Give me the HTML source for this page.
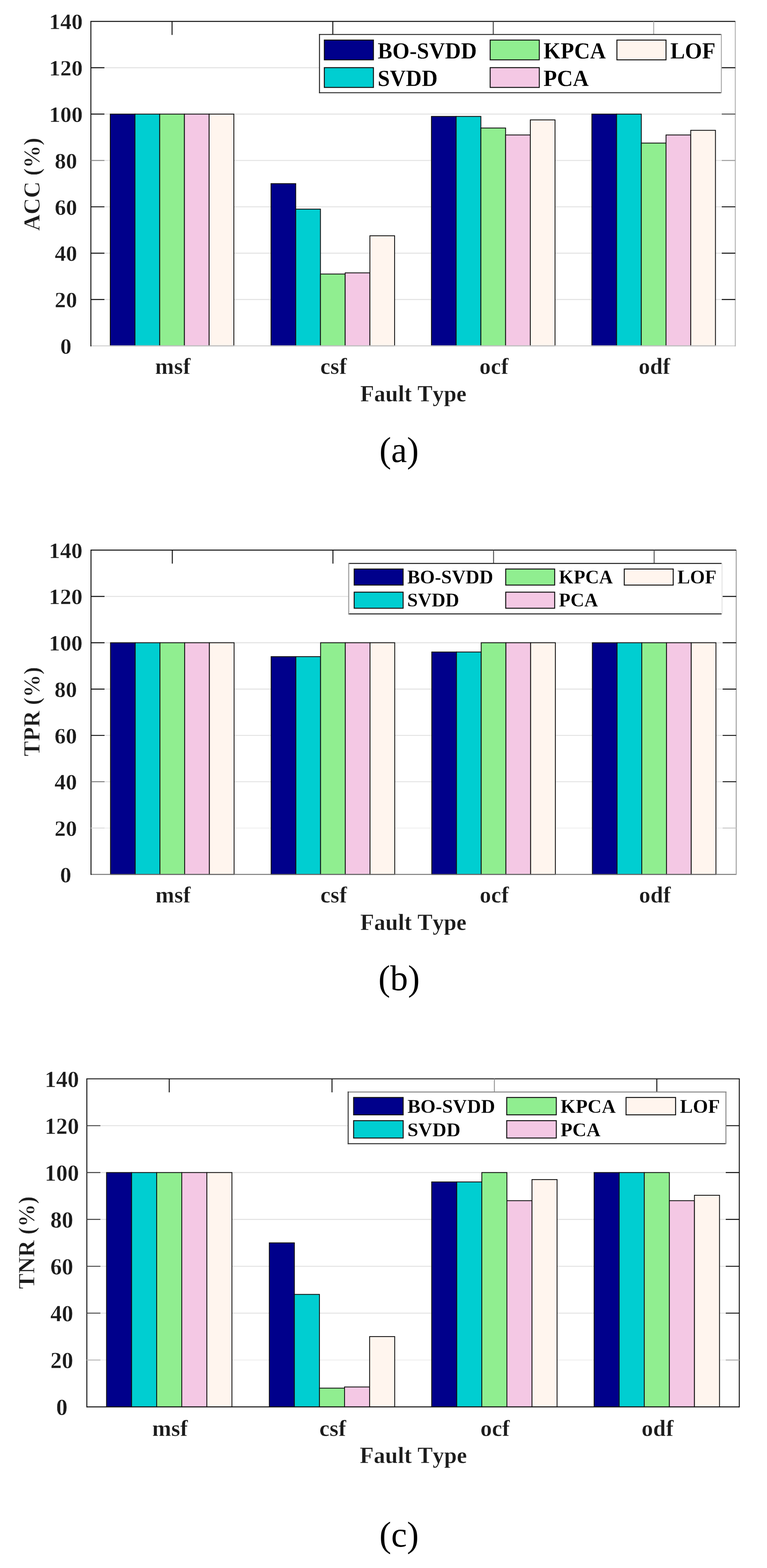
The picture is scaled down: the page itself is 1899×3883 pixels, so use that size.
<!DOCTYPE html>
<html lang="en">
<head>
<meta charset="utf-8">
<title>Fault detection performance comparison</title>
<style>
html, body { margin: 0; padding: 0; background: #fff; }
body { width: 1899px; height: 3883px; overflow: hidden; }
svg { display: block; }
text { font-family: "Liberation Serif", "DejaVu Serif", serif; font-kerning: none; font-variant-ligatures: none; }
.t { font-weight: bold; fill: #1c1c1c; stroke: #fff; stroke-width: 0.5px; paint-order: fill stroke; stroke-linejoin: round; }
.x { letter-spacing: 0.25px; }
.y { stroke-width: 0.9px; }
.l { font-weight: bold; fill: #000; stroke: #fff; stroke-width: 0.3px; paint-order: fill stroke; stroke-linejoin: round; }
.c { font-weight: normal; fill: #000; }
</style>
</head>
<body>
<svg role="img" aria-label="Fault detection performance comparison: ACC, TPR and TNR by fault type" width="1899" height="3883" viewBox="0 0 1899 3883">
<rect x="0" y="0" width="1899" height="3883" fill="#ffffff"/>
<g>
<line x1="225" y1="741.71" x2="1820.5" y2="741.71" stroke="#e2e2e2" stroke-width="2.4"/>
<line x1="225" y1="626.93" x2="1820.5" y2="626.93" stroke="#e2e2e2" stroke-width="2.4"/>
<line x1="225" y1="512.14" x2="1820.5" y2="512.14" stroke="#e2e2e2" stroke-width="2.4"/>
<line x1="225" y1="397.36" x2="1820.5" y2="397.36" stroke="#e2e2e2" stroke-width="2.4"/>
<line x1="225" y1="282.57" x2="1820.5" y2="282.57" stroke="#e2e2e2" stroke-width="2.4"/>
<line x1="225" y1="167.79" x2="1820.5" y2="167.79" stroke="#e2e2e2" stroke-width="2.4"/>
<rect x="273" y="282.57" width="61.2" height="573.93" fill="#00008B" stroke="#101010" stroke-width="2.1"/>
<rect x="334.2" y="282.57" width="61.2" height="573.93" fill="#00CED1" stroke="#101010" stroke-width="2.1"/>
<rect x="395.4" y="282.57" width="61.2" height="573.93" fill="#90EE90" stroke="#101010" stroke-width="2.1"/>
<rect x="456.6" y="282.57" width="61.2" height="573.93" fill="#F4C8E4" stroke="#101010" stroke-width="2.1"/>
<rect x="517.8" y="282.57" width="61.2" height="573.93" fill="#FFF5EE" stroke="#101010" stroke-width="2.1"/>
<rect x="671" y="454.75" width="61.2" height="401.75" fill="#00008B" stroke="#101010" stroke-width="2.1"/>
<rect x="732.2" y="517.88" width="61.2" height="338.62" fill="#00CED1" stroke="#101010" stroke-width="2.1"/>
<rect x="793.4" y="678.58" width="61.2" height="177.92" fill="#90EE90" stroke="#101010" stroke-width="2.1"/>
<rect x="854.6" y="675.71" width="61.2" height="180.79" fill="#F4C8E4" stroke="#101010" stroke-width="2.1"/>
<rect x="915.8" y="583.88" width="61.2" height="272.62" fill="#FFF5EE" stroke="#101010" stroke-width="2.1"/>
<rect x="1068.2" y="288.31" width="61.2" height="568.19" fill="#00008B" stroke="#101010" stroke-width="2.1"/>
<rect x="1129.4" y="288.31" width="61.2" height="568.19" fill="#00CED1" stroke="#101010" stroke-width="2.1"/>
<rect x="1190.6" y="317.01" width="61.2" height="539.49" fill="#90EE90" stroke="#101010" stroke-width="2.1"/>
<rect x="1251.8" y="334.23" width="61.2" height="522.27" fill="#F4C8E4" stroke="#101010" stroke-width="2.1"/>
<rect x="1313" y="296.92" width="61.2" height="559.58" fill="#FFF5EE" stroke="#101010" stroke-width="2.1"/>
<rect x="1465.4" y="282.57" width="61.2" height="573.93" fill="#00008B" stroke="#101010" stroke-width="2.1"/>
<rect x="1526.6" y="282.57" width="61.2" height="573.93" fill="#00CED1" stroke="#101010" stroke-width="2.1"/>
<rect x="1587.8" y="354.31" width="61.2" height="502.19" fill="#90EE90" stroke="#101010" stroke-width="2.1"/>
<rect x="1649" y="334.23" width="61.2" height="522.27" fill="#F4C8E4" stroke="#101010" stroke-width="2.1"/>
<rect x="1710.2" y="322.75" width="61.2" height="533.75" fill="#FFF5EE" stroke="#101010" stroke-width="2.1"/>
<line x1="225" y1="856.5" x2="1820.5" y2="856.5" stroke="#d0d0d0" stroke-width="2.4"/>
<line x1="1820.5" y1="53" x2="1820.5" y2="857.7" stroke="#b4b4b4" stroke-width="2.4"/>
<line x1="223.8" y1="53" x2="1820.5" y2="53" stroke="#111" stroke-width="2.4"/>
<line x1="225" y1="53" x2="225" y2="857.7" stroke="#111" stroke-width="2.4"/>
<line x1="225" y1="741.71" x2="258.5" y2="741.71" stroke="#111" stroke-width="2.4"/>
<line x1="1787" y1="741.71" x2="1820.5" y2="741.71" stroke="#111" stroke-width="2.4"/>
<line x1="225" y1="626.93" x2="258.5" y2="626.93" stroke="#111" stroke-width="2.4"/>
<line x1="1787" y1="626.93" x2="1820.5" y2="626.93" stroke="#111" stroke-width="2.4"/>
<line x1="225" y1="512.14" x2="258.5" y2="512.14" stroke="#111" stroke-width="2.4"/>
<line x1="1787" y1="512.14" x2="1820.5" y2="512.14" stroke="#111" stroke-width="2.4"/>
<line x1="225" y1="397.36" x2="258.5" y2="397.36" stroke="#888" stroke-width="2.4"/>
<line x1="1787" y1="397.36" x2="1820.5" y2="397.36" stroke="#999" stroke-width="2.4"/>
<line x1="225" y1="282.57" x2="258.5" y2="282.57" stroke="#111" stroke-width="2.4"/>
<line x1="1787" y1="282.57" x2="1820.5" y2="282.57" stroke="#555" stroke-width="2.4"/>
<line x1="225" y1="167.79" x2="258.5" y2="167.79" stroke="#111" stroke-width="2.4"/>
<line x1="1787" y1="167.79" x2="1820.5" y2="167.79" stroke="#111" stroke-width="2.4"/>
<line x1="426" y1="53" x2="426" y2="86.5" stroke="#111" stroke-width="2.4"/>
<line x1="824" y1="53" x2="824" y2="86.5" stroke="#111" stroke-width="2.4"/>
<line x1="1221.2" y1="53" x2="1221.2" y2="86.5" stroke="#444" stroke-width="2.4"/>
<line x1="1618.4" y1="53" x2="1618.4" y2="86.5" stroke="#aaa" stroke-width="2.4"/>
<text x="163.2" y="875.97" font-size="55.5" text-anchor="middle" class="t">0</text>
<text x="163.2" y="761.18" font-size="55.5" text-anchor="middle" class="t">20</text>
<text x="163.2" y="646.4" font-size="55.5" text-anchor="middle" class="t">40</text>
<text x="163.2" y="531.61" font-size="55.5" text-anchor="middle" class="t">60</text>
<text x="163.2" y="416.83" font-size="55.5" text-anchor="middle" class="t">80</text>
<text x="163.2" y="302.04" font-size="55.5" text-anchor="middle" class="t">100</text>
<text x="163.2" y="187.26" font-size="55.5" text-anchor="middle" class="t">120</text>
<text x="163.2" y="72.47" font-size="55.5" text-anchor="middle" class="t">140</text>
<text x="428" y="926" font-size="56" text-anchor="middle" class="t x">msf</text>
<text x="826" y="926" font-size="56" text-anchor="middle" class="t x">csf</text>
<text x="1223.2" y="926" font-size="56" text-anchor="middle" class="t x">ocf</text>
<text x="1620.4" y="926" font-size="56" text-anchor="middle" class="t x">odf</text>
<text x="1023.5" y="994.3" font-size="56" text-anchor="middle" class="t">Fault Type</text>
<text transform="translate(98,456.5) rotate(-90)" font-size="56.5" text-anchor="middle" class="t y">ACC (%)</text>
<rect x="791" y="85.4" width="995" height="144.2" fill="#fff"/>
<line x1="1786" y1="84.2" x2="1786" y2="230.8" stroke="#aaa" stroke-width="2.4"/>
<line x1="789.8" y1="85.4" x2="1784.8" y2="85.4" stroke="#222" stroke-width="2.4"/>
<line x1="789.8" y1="229.6" x2="1784.8" y2="229.6" stroke="#222" stroke-width="2.4"/>
<line x1="791" y1="84.2" x2="791" y2="230.8" stroke="#222" stroke-width="2.4"/>
<rect x="803" y="99.2" width="121.6" height="49" fill="#00008B" stroke="#111" stroke-width="2.4"/>
<text transform="translate(935,144.7) scale(0.975,1)" font-size="56" class="l">BO-SVDD</text>
<rect x="803" y="167.5" width="121.6" height="49" fill="#00CED1" stroke="#111" stroke-width="2.4"/>
<text transform="translate(935,213) scale(0.975,1)" font-size="56" class="l">SVDD</text>
<rect x="1213.6" y="99.2" width="121.6" height="49" fill="#90EE90" stroke="#111" stroke-width="2.4"/>
<text transform="translate(1345.6,144.7) scale(0.975,1)" font-size="56" class="l">KPCA</text>
<rect x="1213.6" y="167.5" width="121.6" height="49" fill="#F4C8E4" stroke="#111" stroke-width="2.4"/>
<text transform="translate(1345.6,213) scale(0.975,1)" font-size="56" class="l">PCA</text>
<rect x="1527.4" y="99.2" width="121.6" height="49" fill="#FFF5EE" stroke="#111" stroke-width="2.4"/>
<text transform="translate(1659.4,144.7) scale(0.975,1)" font-size="56" class="l">LOF</text>
<text x="988" y="1143.5" font-size="88" text-anchor="middle" class="c">(a)</text>
</g>
<g>
<line x1="225.3" y1="2050.66" x2="1822.8" y2="2050.66" stroke="#f0f0f0" stroke-width="2.4"/>
<line x1="225.3" y1="1935.91" x2="1822.8" y2="1935.91" stroke="#e2e2e2" stroke-width="2.4"/>
<line x1="225.3" y1="1821.17" x2="1822.8" y2="1821.17" stroke="#e2e2e2" stroke-width="2.4"/>
<line x1="225.3" y1="1706.43" x2="1822.8" y2="1706.43" stroke="#e2e2e2" stroke-width="2.4"/>
<line x1="225.3" y1="1591.69" x2="1822.8" y2="1591.69" stroke="#e2e2e2" stroke-width="2.4"/>
<line x1="225.3" y1="1476.94" x2="1822.8" y2="1476.94" stroke="#e2e2e2" stroke-width="2.4"/>
<rect x="273.6" y="1591.69" width="61.2" height="573.71" fill="#00008B" stroke="#101010" stroke-width="2.1"/>
<rect x="334.8" y="1591.69" width="61.2" height="573.71" fill="#00CED1" stroke="#101010" stroke-width="2.1"/>
<rect x="396" y="1591.69" width="61.2" height="573.71" fill="#90EE90" stroke="#101010" stroke-width="2.1"/>
<rect x="457.2" y="1591.69" width="61.2" height="573.71" fill="#F4C8E4" stroke="#101010" stroke-width="2.1"/>
<rect x="518.4" y="1591.69" width="61.2" height="573.71" fill="#FFF5EE" stroke="#101010" stroke-width="2.1"/>
<rect x="671.3" y="1626.11" width="61.2" height="539.29" fill="#00008B" stroke="#101010" stroke-width="2.1"/>
<rect x="732.5" y="1626.11" width="61.2" height="539.29" fill="#00CED1" stroke="#101010" stroke-width="2.1"/>
<rect x="793.7" y="1591.69" width="61.2" height="573.71" fill="#90EE90" stroke="#101010" stroke-width="2.1"/>
<rect x="854.9" y="1591.69" width="61.2" height="573.71" fill="#F4C8E4" stroke="#101010" stroke-width="2.1"/>
<rect x="916.1" y="1591.69" width="61.2" height="573.71" fill="#FFF5EE" stroke="#101010" stroke-width="2.1"/>
<rect x="1069" y="1614.63" width="61.2" height="550.77" fill="#00008B" stroke="#101010" stroke-width="2.1"/>
<rect x="1130.2" y="1614.63" width="61.2" height="550.77" fill="#00CED1" stroke="#101010" stroke-width="2.1"/>
<rect x="1191.4" y="1591.69" width="61.2" height="573.71" fill="#90EE90" stroke="#101010" stroke-width="2.1"/>
<rect x="1252.6" y="1591.69" width="61.2" height="573.71" fill="#F4C8E4" stroke="#101010" stroke-width="2.1"/>
<rect x="1313.8" y="1591.69" width="61.2" height="573.71" fill="#FFF5EE" stroke="#101010" stroke-width="2.1"/>
<rect x="1466.6" y="1591.69" width="61.2" height="573.71" fill="#00008B" stroke="#101010" stroke-width="2.1"/>
<rect x="1527.8" y="1591.69" width="61.2" height="573.71" fill="#00CED1" stroke="#101010" stroke-width="2.1"/>
<rect x="1589" y="1591.69" width="61.2" height="573.71" fill="#90EE90" stroke="#101010" stroke-width="2.1"/>
<rect x="1650.2" y="1591.69" width="61.2" height="573.71" fill="#F4C8E4" stroke="#101010" stroke-width="2.1"/>
<rect x="1711.4" y="1591.69" width="61.2" height="573.71" fill="#FFF5EE" stroke="#101010" stroke-width="2.1"/>
<line x1="225.3" y1="2165.4" x2="1822.8" y2="2165.4" stroke="#6e6e6e" stroke-width="2.4"/>
<line x1="1822.8" y1="1362.2" x2="1822.8" y2="2166.6" stroke="#a0a0a0" stroke-width="2.4"/>
<line x1="224.1" y1="1362.2" x2="1822.8" y2="1362.2" stroke="#111" stroke-width="2.4"/>
<line x1="225.3" y1="1362.2" x2="225.3" y2="2166.6" stroke="#111" stroke-width="2.4"/>
<line x1="225.3" y1="2050.66" x2="258.8" y2="2050.66" stroke="#dcdcdc" stroke-width="2.4"/>
<line x1="1789.3" y1="2050.66" x2="1822.8" y2="2050.66" stroke="#c8c8c8" stroke-width="2.4"/>
<line x1="225.3" y1="1935.91" x2="258.8" y2="1935.91" stroke="#777" stroke-width="2.4"/>
<line x1="1789.3" y1="1935.91" x2="1822.8" y2="1935.91" stroke="#111" stroke-width="2.4"/>
<line x1="225.3" y1="1821.17" x2="258.8" y2="1821.17" stroke="#111" stroke-width="2.4"/>
<line x1="1789.3" y1="1821.17" x2="1822.8" y2="1821.17" stroke="#111" stroke-width="2.4"/>
<line x1="225.3" y1="1706.43" x2="258.8" y2="1706.43" stroke="#111" stroke-width="2.4"/>
<line x1="1789.3" y1="1706.43" x2="1822.8" y2="1706.43" stroke="#111" stroke-width="2.4"/>
<line x1="225.3" y1="1591.69" x2="258.8" y2="1591.69" stroke="#111" stroke-width="2.4"/>
<line x1="1789.3" y1="1591.69" x2="1822.8" y2="1591.69" stroke="#111" stroke-width="2.4"/>
<line x1="225.3" y1="1476.94" x2="258.8" y2="1476.94" stroke="#111" stroke-width="2.4"/>
<line x1="1789.3" y1="1476.94" x2="1822.8" y2="1476.94" stroke="#111" stroke-width="2.4"/>
<line x1="426.6" y1="1362.2" x2="426.6" y2="1395.7" stroke="#111" stroke-width="2.4"/>
<line x1="824.3" y1="1362.2" x2="824.3" y2="1395.7" stroke="#111" stroke-width="2.4"/>
<line x1="1222" y1="1362.2" x2="1222" y2="1395.7" stroke="#555" stroke-width="2.4"/>
<line x1="1619.6" y1="1362.2" x2="1619.6" y2="1395.7" stroke="#555" stroke-width="2.4"/>
<text x="162.7" y="2184.87" font-size="55.5" text-anchor="middle" class="t">0</text>
<text x="162.7" y="2070.13" font-size="55.5" text-anchor="middle" class="t">20</text>
<text x="162.7" y="1955.38" font-size="55.5" text-anchor="middle" class="t">40</text>
<text x="162.7" y="1840.64" font-size="55.5" text-anchor="middle" class="t">60</text>
<text x="162.7" y="1725.9" font-size="55.5" text-anchor="middle" class="t">80</text>
<text x="162.7" y="1611.16" font-size="55.5" text-anchor="middle" class="t">100</text>
<text x="162.7" y="1496.41" font-size="55.5" text-anchor="middle" class="t">120</text>
<text x="162.7" y="1381.67" font-size="55.5" text-anchor="middle" class="t">140</text>
<text x="428.6" y="2234.8" font-size="56" text-anchor="middle" class="t x">msf</text>
<text x="826.3" y="2234.8" font-size="56" text-anchor="middle" class="t x">csf</text>
<text x="1224" y="2234.8" font-size="56" text-anchor="middle" class="t x">ocf</text>
<text x="1621.6" y="2234.8" font-size="56" text-anchor="middle" class="t x">odf</text>
<text x="1023.5" y="2303" font-size="56" text-anchor="middle" class="t">Fault Type</text>
<text transform="translate(98,1762.4) rotate(-90)" font-size="56.5" text-anchor="middle" class="t y">TPR (%)</text>
<rect x="863.4" y="1395.2" width="924.3" height="125" fill="#fff"/>
<line x1="1787.7" y1="1394" x2="1787.7" y2="1521.4" stroke="#e4e4e4" stroke-width="2.4"/>
<line x1="862.2" y1="1395.2" x2="1786.5" y2="1395.2" stroke="#222" stroke-width="2.4"/>
<line x1="862.2" y1="1520.2" x2="1786.5" y2="1520.2" stroke="#222" stroke-width="2.4"/>
<line x1="863.4" y1="1394" x2="863.4" y2="1521.4" stroke="#999" stroke-width="2.4"/>
<rect x="876.9" y="1409.1" width="121.2" height="39.8" fill="#00008B" stroke="#111" stroke-width="2.4"/>
<text transform="translate(1008.3,1445) scale(0.965,1)" font-size="49" class="l">BO-SVDD</text>
<rect x="876.9" y="1466.4" width="121.2" height="39.8" fill="#00CED1" stroke="#111" stroke-width="2.4"/>
<text transform="translate(1008.3,1502.3) scale(0.965,1)" font-size="49" class="l">SVDD</text>
<rect x="1252.1" y="1409.1" width="121.2" height="39.8" fill="#90EE90" stroke="#111" stroke-width="2.4"/>
<text transform="translate(1383.5,1445) scale(0.965,1)" font-size="49" class="l">KPCA</text>
<rect x="1252.1" y="1466.4" width="121.2" height="39.8" fill="#F4C8E4" stroke="#111" stroke-width="2.4"/>
<text transform="translate(1383.5,1502.3) scale(0.965,1)" font-size="49" class="l">PCA</text>
<rect x="1545.6" y="1409.1" width="121.2" height="39.8" fill="#FFF5EE" stroke="#111" stroke-width="2.4"/>
<text transform="translate(1677,1445) scale(0.965,1)" font-size="49" class="l">LOF</text>
<text x="988" y="2452" font-size="88" text-anchor="middle" class="c">(b)</text>
</g>
<g>
<line x1="215" y1="3367.94" x2="1830.4" y2="3367.94" stroke="#f0f0f0" stroke-width="2.4"/>
<line x1="215" y1="3251.89" x2="1830.4" y2="3251.89" stroke="#e2e2e2" stroke-width="2.4"/>
<line x1="215" y1="3135.83" x2="1830.4" y2="3135.83" stroke="#e2e2e2" stroke-width="2.4"/>
<line x1="215" y1="3019.77" x2="1830.4" y2="3019.77" stroke="#e2e2e2" stroke-width="2.4"/>
<line x1="215" y1="2903.71" x2="1830.4" y2="2903.71" stroke="#e2e2e2" stroke-width="2.4"/>
<line x1="215" y1="2787.66" x2="1830.4" y2="2787.66" stroke="#e2e2e2" stroke-width="2.4"/>
<rect x="263.75" y="2903.71" width="62.1" height="580.29" fill="#00008B" stroke="#101010" stroke-width="2.1"/>
<rect x="325.85" y="2903.71" width="62.1" height="580.29" fill="#00CED1" stroke="#101010" stroke-width="2.1"/>
<rect x="387.95" y="2903.71" width="62.1" height="580.29" fill="#90EE90" stroke="#101010" stroke-width="2.1"/>
<rect x="450.05" y="2903.71" width="62.1" height="580.29" fill="#F4C8E4" stroke="#101010" stroke-width="2.1"/>
<rect x="512.15" y="2903.71" width="62.1" height="580.29" fill="#FFF5EE" stroke="#101010" stroke-width="2.1"/>
<rect x="666.75" y="3077.8" width="62.1" height="406.2" fill="#00008B" stroke="#101010" stroke-width="2.1"/>
<rect x="728.85" y="3205.46" width="62.1" height="278.54" fill="#00CED1" stroke="#101010" stroke-width="2.1"/>
<rect x="790.95" y="3437.58" width="62.1" height="46.42" fill="#90EE90" stroke="#101010" stroke-width="2.1"/>
<rect x="853.05" y="3434.68" width="62.1" height="49.32" fill="#F4C8E4" stroke="#101010" stroke-width="2.1"/>
<rect x="915.15" y="3309.91" width="62.1" height="174.09" fill="#FFF5EE" stroke="#101010" stroke-width="2.1"/>
<rect x="1068.75" y="2926.93" width="62.1" height="557.07" fill="#00008B" stroke="#101010" stroke-width="2.1"/>
<rect x="1130.85" y="2926.93" width="62.1" height="557.07" fill="#00CED1" stroke="#101010" stroke-width="2.1"/>
<rect x="1192.95" y="2903.71" width="62.1" height="580.29" fill="#90EE90" stroke="#101010" stroke-width="2.1"/>
<rect x="1255.05" y="2973.35" width="62.1" height="510.65" fill="#F4C8E4" stroke="#101010" stroke-width="2.1"/>
<rect x="1317.15" y="2921.12" width="62.1" height="562.88" fill="#FFF5EE" stroke="#101010" stroke-width="2.1"/>
<rect x="1470.95" y="2903.71" width="62.1" height="580.29" fill="#00008B" stroke="#101010" stroke-width="2.1"/>
<rect x="1533.05" y="2903.71" width="62.1" height="580.29" fill="#00CED1" stroke="#101010" stroke-width="2.1"/>
<rect x="1595.15" y="2903.71" width="62.1" height="580.29" fill="#90EE90" stroke="#101010" stroke-width="2.1"/>
<rect x="1657.25" y="2973.35" width="62.1" height="510.65" fill="#F4C8E4" stroke="#101010" stroke-width="2.1"/>
<rect x="1719.35" y="2960" width="62.1" height="524" fill="#FFF5EE" stroke="#101010" stroke-width="2.1"/>
<line x1="215" y1="3484" x2="1830.4" y2="3484" stroke="#111" stroke-width="2.4"/>
<line x1="1830.4" y1="2671.6" x2="1830.4" y2="3485.2" stroke="#111" stroke-width="2.4"/>
<line x1="213.8" y1="2671.6" x2="1831.6" y2="2671.6" stroke="#111" stroke-width="2.4"/>
<line x1="215" y1="2671.6" x2="215" y2="3485.2" stroke="#111" stroke-width="2.4"/>
<line x1="215" y1="3367.94" x2="248.5" y2="3367.94" stroke="#bbb" stroke-width="2.4"/>
<line x1="1796.9" y1="3367.94" x2="1830.4" y2="3367.94" stroke="#b0b0b0" stroke-width="2.4"/>
<line x1="215" y1="3251.89" x2="248.5" y2="3251.89" stroke="#444" stroke-width="2.4"/>
<line x1="1796.9" y1="3251.89" x2="1830.4" y2="3251.89" stroke="#111" stroke-width="2.4"/>
<line x1="215" y1="3135.83" x2="248.5" y2="3135.83" stroke="#444" stroke-width="2.4"/>
<line x1="1796.9" y1="3135.83" x2="1830.4" y2="3135.83" stroke="#111" stroke-width="2.4"/>
<line x1="215" y1="3019.77" x2="248.5" y2="3019.77" stroke="#444" stroke-width="2.4"/>
<line x1="1796.9" y1="3019.77" x2="1830.4" y2="3019.77" stroke="#111" stroke-width="2.4"/>
<line x1="215" y1="2903.71" x2="248.5" y2="2903.71" stroke="#444" stroke-width="2.4"/>
<line x1="1796.9" y1="2903.71" x2="1830.4" y2="2903.71" stroke="#111" stroke-width="2.4"/>
<line x1="215" y1="2787.66" x2="248.5" y2="2787.66" stroke="#444" stroke-width="2.4"/>
<line x1="1796.9" y1="2787.66" x2="1830.4" y2="2787.66" stroke="#111" stroke-width="2.4"/>
<line x1="419" y1="2671.6" x2="419" y2="2705.1" stroke="#111" stroke-width="2.4"/>
<line x1="822" y1="2671.6" x2="822" y2="2705.1" stroke="#111" stroke-width="2.4"/>
<line x1="1224" y1="2671.6" x2="1224" y2="2705.1" stroke="#999" stroke-width="2.4"/>
<line x1="1626.2" y1="2671.6" x2="1626.2" y2="2705.1" stroke="#111" stroke-width="2.4"/>
<text x="153" y="3504.41" font-size="56.5" text-anchor="middle" class="t">0</text>
<text x="153" y="3388.35" font-size="56.5" text-anchor="middle" class="t">20</text>
<text x="153" y="3272.3" font-size="56.5" text-anchor="middle" class="t">40</text>
<text x="153" y="3156.24" font-size="56.5" text-anchor="middle" class="t">60</text>
<text x="153" y="3040.18" font-size="56.5" text-anchor="middle" class="t">80</text>
<text x="153" y="2924.12" font-size="56.5" text-anchor="middle" class="t">100</text>
<text x="153" y="2808.07" font-size="56.5" text-anchor="middle" class="t">120</text>
<text x="153" y="2692.01" font-size="56.5" text-anchor="middle" class="t">140</text>
<text x="421" y="3555.5" font-size="56.5" text-anchor="middle" class="t x">msf</text>
<text x="824" y="3555.5" font-size="56.5" text-anchor="middle" class="t x">csf</text>
<text x="1226" y="3555.5" font-size="56.5" text-anchor="middle" class="t x">ocf</text>
<text x="1628.2" y="3555.5" font-size="56.5" text-anchor="middle" class="t x">odf</text>
<text x="1023.5" y="3623" font-size="56.5" text-anchor="middle" class="t">Fault Type</text>
<text transform="translate(85.2,3077.2) rotate(-90)" font-size="57" text-anchor="middle" class="t y">TNR (%)</text>
<rect x="862" y="2704.2" width="935.3" height="128" fill="#fff"/>
<line x1="1797.3" y1="2703" x2="1797.3" y2="2833.4" stroke="#888" stroke-width="2.4"/>
<line x1="860.8" y1="2704.2" x2="1798.5" y2="2704.2" stroke="#888" stroke-width="2.4"/>
<line x1="860.8" y1="2832.2" x2="1796.1" y2="2832.2" stroke="#333" stroke-width="2.4"/>
<line x1="862" y1="2703" x2="862" y2="2833.4" stroke="#333" stroke-width="2.4"/>
<rect x="875.5" y="2717.8" width="122.7" height="43" fill="#00008B" stroke="#111" stroke-width="2.4"/>
<text transform="translate(1008.7,2756.3) scale(0.975,1)" font-size="49.5" class="l">BO-SVDD</text>
<rect x="875.5" y="2775.2" width="122.7" height="43" fill="#00CED1" stroke="#111" stroke-width="2.4"/>
<text transform="translate(1008.7,2813.7) scale(0.975,1)" font-size="49.5" class="l">SVDD</text>
<rect x="1254.6" y="2717.8" width="122.7" height="43" fill="#90EE90" stroke="#111" stroke-width="2.4"/>
<text transform="translate(1387.8,2756.3) scale(0.975,1)" font-size="49.5" class="l">KPCA</text>
<rect x="1254.6" y="2775.2" width="122.7" height="43" fill="#F4C8E4" stroke="#111" stroke-width="2.4"/>
<text transform="translate(1387.8,2813.7) scale(0.975,1)" font-size="49.5" class="l">PCA</text>
<rect x="1550" y="2717.8" width="122.7" height="43" fill="#FFF5EE" stroke="#111" stroke-width="2.4"/>
<text transform="translate(1683.2,2756.3) scale(0.975,1)" font-size="49.5" class="l">LOF</text>
<text x="988" y="3829.5" font-size="88" text-anchor="middle" class="c">(c)</text>
</g>
</svg>
</body>
</html>
